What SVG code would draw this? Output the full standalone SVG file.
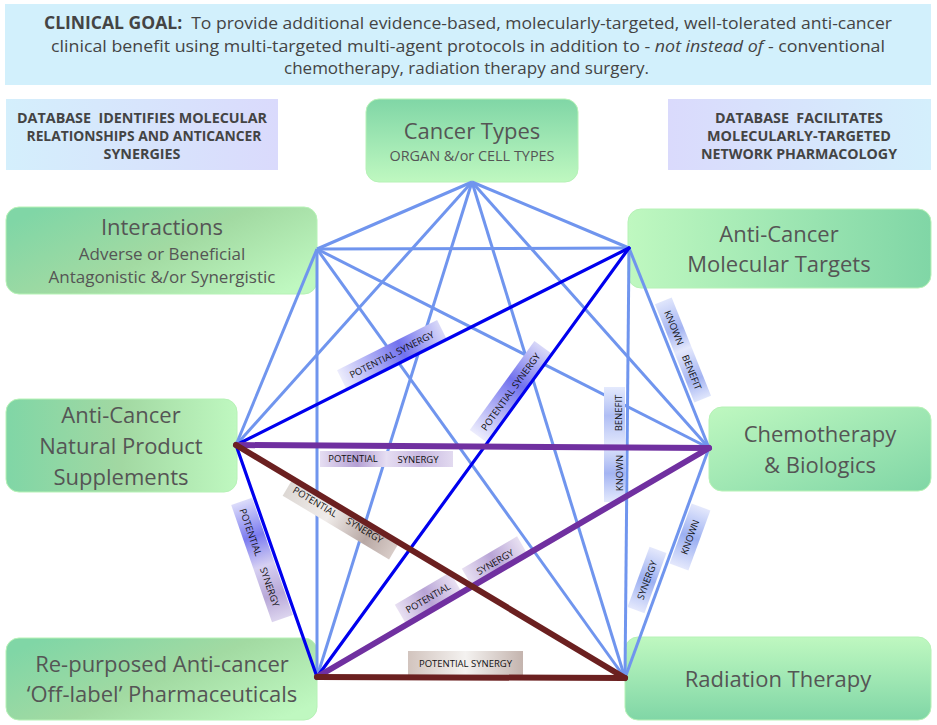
<svg xmlns="http://www.w3.org/2000/svg" width="937" height="725" viewBox="0 0 937 725">
<style>
.node rect{stroke:#b6f2b6;stroke-width:1}
.nt{font-family:"Open Sans","DejaVu Sans",sans-serif;fill:#555;text-anchor:middle}
.big{font-size:22px}
.mid{font-size:17px}
.sm{font-size:14px}
.ban{font-family:"Open Sans","DejaVu Sans",sans-serif;font-size:17px;fill:#444;text-anchor:middle}
.db{font-family:"Open Sans","DejaVu Sans",sans-serif;font-size:14px;font-weight:bold;fill:#444;text-anchor:middle}
.lb{font-family:"Open Sans","DejaVu Sans",sans-serif;font-size:9.5px;fill:#111;text-anchor:middle}
.lt{stroke:#7095ee;stroke-width:3;fill:none}
.dk{stroke:#0000ee;stroke-width:3.2;fill:none;stroke-linecap:round}
.pu{stroke:#7030a0;stroke-width:6;fill:none;stroke-linecap:round}
.br{stroke:#6b2020;stroke-width:6;fill:none;stroke-linecap:round}
</style>
<defs>
<linearGradient id="gTLh" x1="0" y1="0" x2="1" y2="0"><stop offset="0" stop-color="#80d6a6"/><stop offset="1" stop-color="#bff8c0"/></linearGradient>
<linearGradient id="gLTh" x1="0" y1="0" x2="1" y2="0"><stop offset="0" stop-color="#bff8c0"/><stop offset="1" stop-color="#80d6a6"/></linearGradient>
<linearGradient id="gTLv" x1="0" y1="0" x2="0" y2="1"><stop offset="0" stop-color="#80d6a6"/><stop offset="1" stop-color="#bff8c0"/></linearGradient>
<linearGradient id="gLTv" x1="0" y1="0" x2="0" y2="1"><stop offset="0" stop-color="#bff8c0"/><stop offset="1" stop-color="#80d6a6"/></linearGradient>
<linearGradient id="gLTd" x1="0" y1="0" x2="1" y2="1"><stop offset="0" stop-color="#bff8c0"/><stop offset="1" stop-color="#80d6a6"/></linearGradient>
<linearGradient id="gTLd" x1="0" y1="0.2" x2="1" y2="0.8"><stop offset="0" stop-color="#80d6a6"/><stop offset="0.5" stop-color="#a2daa2"/><stop offset="1" stop-color="#bff8c0"/></linearGradient>
<linearGradient id="gNat" x1="0" y1="0" x2="1" y2="0"><stop offset="0" stop-color="#80d6a6"/><stop offset="0.5" stop-color="#a2d8a2"/><stop offset="1" stop-color="#bff8c0"/></linearGradient>
<linearGradient id="gDbL" x1="0" y1="0" x2="1" y2="0"><stop offset="0" stop-color="#d4effc"/><stop offset="1" stop-color="#dadafc"/></linearGradient>
<linearGradient id="gDbR" x1="0" y1="0" x2="1" y2="0"><stop offset="0" stop-color="#dadafc"/><stop offset="1" stop-color="#d4effc"/></linearGradient>
<linearGradient id="lBlue" x1="0" y1="0" x2="1" y2="0"><stop offset="0" stop-color="#ececfc"/><stop offset="0.6" stop-color="#7272ee"/><stop offset="1" stop-color="#d8d8f8"/></linearGradient>
<linearGradient id="lBlueMix" x1="0" y1="0" x2="1" y2="0"><stop offset="0" stop-color="#dcdcfa"/><stop offset="0.3" stop-color="#7c7cf0"/><stop offset="0.55" stop-color="#d6d0f2"/><stop offset="0.8" stop-color="#b8a8d8"/><stop offset="1" stop-color="#dcd4ee"/></linearGradient>
<linearGradient id="lPurH" x1="0" y1="0" x2="1" y2="0"><stop offset="0" stop-color="#e6def2"/><stop offset="0.28" stop-color="#b4a0d4"/><stop offset="0.5" stop-color="#e6def2"/><stop offset="0.75" stop-color="#c8b8e0"/><stop offset="1" stop-color="#e2daf0"/></linearGradient>
<linearGradient id="lPurS" x1="0" y1="0" x2="1" y2="0"><stop offset="0" stop-color="#e8e0f2"/><stop offset="0.5" stop-color="#b8a4d6"/><stop offset="1" stop-color="#e8e0f2"/></linearGradient>
<linearGradient id="lBrD" x1="0" y1="0" x2="1" y2="0"><stop offset="0" stop-color="#ddd8d4"/><stop offset="0.4" stop-color="#f0ecea"/><stop offset="0.75" stop-color="#b8a8a4"/><stop offset="1" stop-color="#d8ccc8"/></linearGradient>
<linearGradient id="lBrH" x1="0" y1="0" x2="1" y2="0"><stop offset="0" stop-color="#d2c4be"/><stop offset="0.5" stop-color="#f4f2f0"/><stop offset="1" stop-color="#c4b4ae"/></linearGradient>
<linearGradient id="lLB" x1="0" y1="0" x2="1" y2="0"><stop offset="0" stop-color="#e0e6fc"/><stop offset="0.3" stop-color="#a4b4f2"/><stop offset="0.5" stop-color="#e4e8fc"/><stop offset="0.8" stop-color="#a4b4f2"/><stop offset="1" stop-color="#e0e6fc"/></linearGradient>
<linearGradient id="lLBv" x1="0" y1="0" x2="0" y2="1"><stop offset="0" stop-color="#e4eafd"/><stop offset="0.25" stop-color="#b0bef4"/><stop offset="0.5" stop-color="#e0e6fc"/><stop offset="0.75" stop-color="#a4b4f2"/><stop offset="1" stop-color="#e4eafd"/></linearGradient>
<linearGradient id="lLBs" x1="0" y1="0" x2="1" y2="0"><stop offset="0" stop-color="#e4e8fc"/><stop offset="0.5" stop-color="#9cb0f2"/><stop offset="1" stop-color="#e4e8fc"/></linearGradient>
</defs>
<rect width="937" height="725" fill="#ffffff"/>

<g id="banner">
<rect x="5" y="4" width="926" height="81" fill="#d2f0fc"/>
<text class="ban" x="468" y="29" textLength="848" lengthAdjust="spacingAndGlyphs"><tspan font-weight="bold">CLINICAL GOAL:</tspan>&#160; To provide additional evidence-based, molecularly-targeted, well-tolerated anti-cancer</text>
<text class="ban" x="468" y="52" textLength="834" lengthAdjust="spacingAndGlyphs">clinical benefit using multi-targeted multi-agent protocols in addition to - <tspan font-style="italic">not instead of</tspan> - conventional</text>
<text class="ban" x="466.5" y="74" textLength="365" lengthAdjust="spacingAndGlyphs">chemotherapy, radiation therapy and surgery.</text>
</g>

<g id="db-left">
<rect x="6" y="99" width="272" height="71" fill="url(#gDbL)"/>
<text class="db" x="142" y="123" textLength="250" lengthAdjust="spacingAndGlyphs">DATABASE&#160; IDENTIFIES MOLECULAR</text>
<text class="db" x="144" y="141" textLength="235" lengthAdjust="spacingAndGlyphs">RELATIONSHIPS AND ANTICANCER</text>
<text class="db" x="142" y="159" textLength="77" lengthAdjust="spacingAndGlyphs">SYNERGIES</text>
</g>

<g id="db-right">
<rect x="668" y="99" width="263" height="71" fill="url(#gDbR)"/>
<text class="db" x="799" y="123" textLength="168" lengthAdjust="spacingAndGlyphs">DATABASE&#160; FACILITATES</text>
<text class="db" x="799" y="141" textLength="184" lengthAdjust="spacingAndGlyphs">MOLECULARLY-TARGETED</text>
<text class="db" x="799" y="159" textLength="196" lengthAdjust="spacingAndGlyphs">NETWORK PHARMACOLOGY</text>
</g>

<g id="n-cancer-types" class="node">
<rect x="366" y="99" width="212" height="83" rx="13" fill="url(#gTLv)"/>
<text class="nt big" x="472" y="139">Cancer Types</text>
<text class="nt sm" x="472" y="161" textLength="165" lengthAdjust="spacingAndGlyphs">ORGAN &amp;/or CELL TYPES</text>
</g>

<g id="n-interactions" class="node">
<rect x="6" y="207" width="311" height="87" rx="13" fill="url(#gTLd)"/>
<text class="nt big" x="162" y="235">Interactions</text>
<text class="nt mid" x="162" y="260">Adverse or Beneficial</text>
<text class="nt mid" x="162" y="283">Antagonistic &amp;/or Synergistic</text>
</g>

<g id="n-targets" class="node">
<rect x="628" y="209" width="303" height="79" rx="13" fill="url(#gLTh)"/>
<text class="nt big" x="779" y="242">Anti-Cancer</text>
<text class="nt big" x="779" y="272">Molecular Targets</text>
</g>

<g id="n-natural" class="node">
<rect x="6" y="399" width="231" height="93" rx="13" fill="url(#gNat)"/>
<text class="nt big" x="121" y="423">Anti-Cancer</text>
<text class="nt big" x="121" y="454">Natural Product</text>
<text class="nt big" x="121" y="485">Supplements</text>
</g>

<g id="n-chemo" class="node">
<rect x="709" y="407" width="222" height="84" rx="13" fill="url(#gLTd)"/>
<text class="nt big" x="820" y="442">Chemotherapy</text>
<text class="nt big" x="820" y="473">&amp; Biologics</text>
</g>

<g id="n-repurposed" class="node">
<rect x="6" y="638" width="311" height="82" rx="13" fill="url(#gTLd)"/>
<text class="nt big" x="162" y="672">Re-purposed Anti-cancer</text>
<text class="nt big" x="162" y="702">‘Off-label’ Pharmaceuticals</text>
</g>

<g id="n-radiation" class="node">
<rect x="625" y="637" width="306" height="83" rx="13" fill="url(#gLTv)"/>
<text class="nt big" x="778" y="687">Radiation Therapy</text>
</g>

<g id="connectors">
<g id="light-edges">
<line class="lt" x1="472" y1="182" x2="317" y2="249"/>
<line class="lt" x1="472" y1="182" x2="629" y2="248"/>
<line class="lt" x1="472" y1="182" x2="236" y2="445"/>
<line class="lt" x1="472" y1="182" x2="709" y2="448"/>
<line class="lt" x1="472" y1="182" x2="317" y2="677"/>
<line class="lt" x1="472" y1="182" x2="625" y2="678"/>
<line class="lt" x1="317" y1="249" x2="629" y2="248"/>
<line class="lt" x1="317" y1="249" x2="236" y2="445"/>
<line class="lt" x1="317" y1="249" x2="709" y2="448"/>
<line class="lt" x1="317" y1="249" x2="317" y2="677"/>
<line class="lt" x1="317" y1="249" x2="625" y2="678"/>
<line class="lt" x1="629" y1="248" x2="709" y2="448"/>
<line class="lt" x1="629" y1="248" x2="625" y2="678"/>
<line class="lt" x1="709" y1="448" x2="625" y2="678"/>
</g>

<g id="edge-labels">
<g transform="translate(392,355) rotate(-26.6)"><rect x="-56" y="-11" width="112" height="22" fill="url(#lBlue)"/><text class="lb" x="0" y="3">POTENTIAL SYNERGY</text></g>
<g transform="translate(511,392) rotate(-54)"><rect x="-55" y="-11" width="110" height="22" fill="url(#lBlue)"/><text class="lb" x="0" y="3">POTENTIAL SYNERGY</text></g>
<rect x="320" y="451" width="133" height="16" fill="url(#lPurH)"/>
<text class="lb" x="353" y="462">POTENTIAL</text>
<text class="lb" x="418" y="463">SYNERGY</text>
<g transform="translate(341,519) rotate(30.9)"><rect x="-62" y="-10" width="124" height="20" fill="url(#lBrD)"/><text class="lb" x="-31" y="2">POTENTIAL</text><text class="lb" x="26" y="1">SYNERGY</text></g>
<g transform="translate(262,560) rotate(70.8)"><rect x="-62" y="-11" width="124" height="22" fill="url(#lBlueMix)"/><text class="lb" x="-30" y="5">POTENTIAL</text><text class="lb" x="28" y="5">SYNERGY</text></g>
<g transform="translate(428,598) rotate(-30.3)"><rect x="-32" y="-11" width="64" height="22" fill="url(#lPurS)"/><text class="lb" x="0" y="3.5">POTENTIAL</text></g>
<g transform="translate(495,562) rotate(-30.3)"><rect x="-32" y="-11" width="64" height="22" fill="url(#lPurS)"/><text class="lb" x="0" y="3.5">SYNERGY</text></g>
<rect x="408" y="651" width="115" height="24" fill="url(#lBrH)"/>
<text class="lb" x="465.5" y="666.5">POTENTIAL SYNERGY</text>
<g transform="translate(683,350) rotate(68.2)"><rect x="-53" y="-9" width="106" height="18" fill="url(#lLB)"/><text class="lb" x="-24" y="3.5">KNOWN</text><text class="lb" x="24" y="3.5">BENEFIT</text></g>
<rect x="604" y="387" width="21" height="115" fill="url(#lLBv)"/>
<g transform="translate(618,413) rotate(-90)"><text class="lb" x="0" y="3.5">BENEFIT</text></g>
<g transform="translate(619,473) rotate(-90)"><text class="lb" x="0" y="3.5">KNOWN</text></g>
<g transform="translate(690,537) rotate(-69.9)"><rect x="-32" y="-10" width="64" height="20" fill="url(#lLBs)"/><text class="lb" x="0" y="3.5">KNOWN</text></g>
<g transform="translate(647,580) rotate(-69.9)"><rect x="-32" y="-9" width="64" height="18" fill="url(#lLBs)"/><text class="lb" x="0" y="3.5">SYNERGY</text></g>
</g>

<g id="strong-edges">
<line class="dk" x1="629" y1="248" x2="236" y2="445"/>
<line class="dk" x1="629" y1="248" x2="317" y2="677"/>
<line class="dk" x1="236" y1="445" x2="317" y2="677"/>
<line class="pu" x1="236" y1="445" x2="709" y2="448"/>
<line class="pu" x1="709" y1="448" x2="317" y2="677"/>
<line class="br" x1="236" y1="445" x2="625" y2="678"/>
<line class="br" x1="317" y1="677" x2="625" y2="678"/>
</g>
</g>
</svg>
